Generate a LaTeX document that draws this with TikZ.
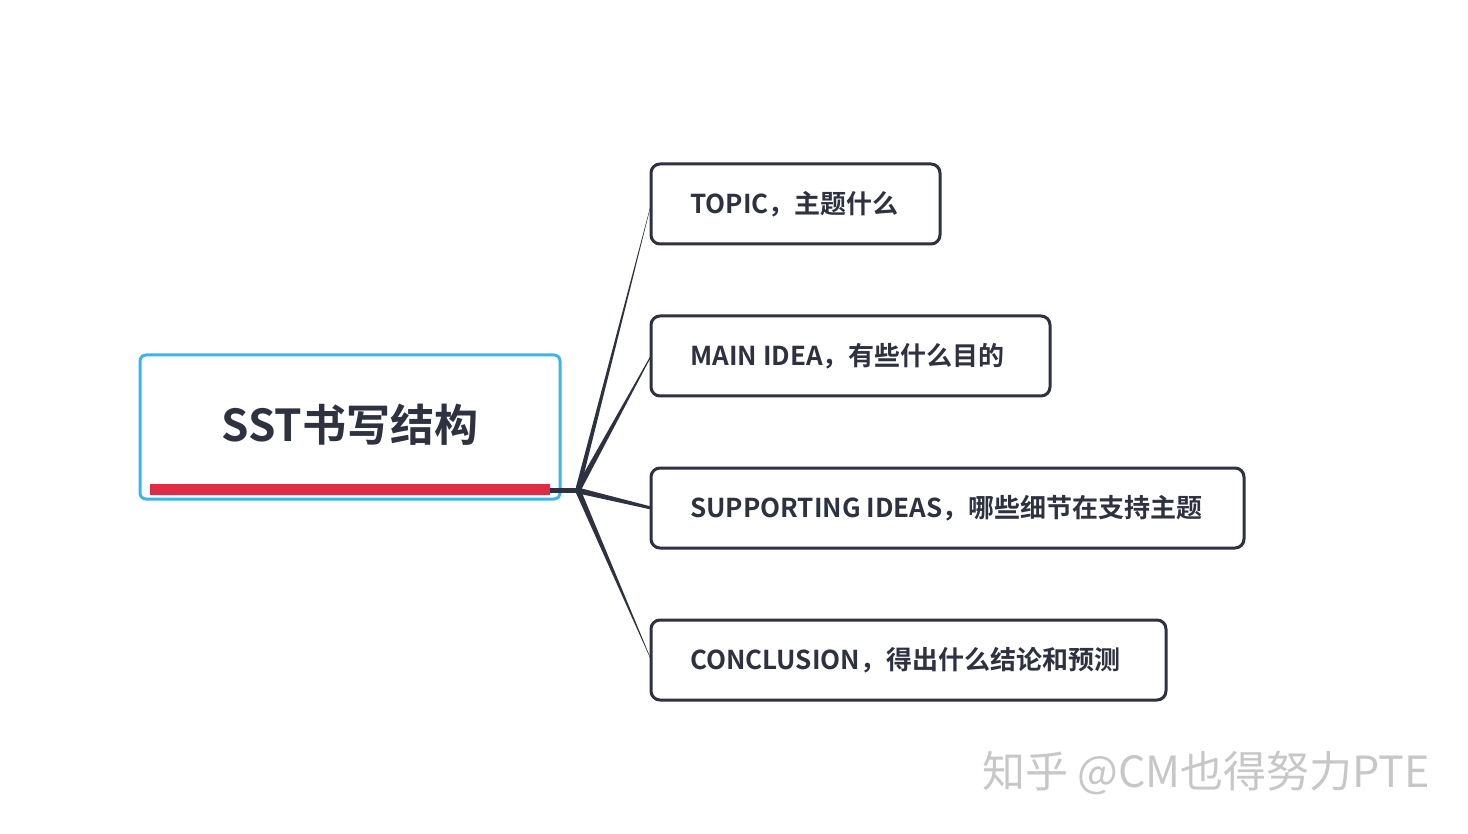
\documentclass[tikz,border=0pt]{standalone}
\usepackage{fontspec}
\setmainfont{Noto Sans CJK SC}
\newfontfamily\cjkb{Noto Sans CJK SC Bold}
\usetikzlibrary{calc}
\definecolor{ink}{HTML}{2E3140}
\definecolor{cyanb}{HTML}{3BB5EA}
\definecolor{redb}{HTML}{DC2D45}
\tikzset{
 child/.style={draw=ink,line width=3pt,rounded corners=9pt,anchor=north west,inner sep=0pt,text=ink},
 lbl/.style={anchor=west,inner sep=0pt,text=ink,font=\cjkb\fontsize{26}{30}\selectfont},
}
\begin{document}
\begin{tikzpicture}[x=1pt,y=-1pt]
\useasboundingbox[fill=white] (0,0) rectangle (1468,834);
\draw[cyanb,line width=3pt,rounded corners=6pt] (140,355) rectangle (560,499);
\fill[redb] (150,484) rectangle (550,495);
\node[text=ink,font=\cjkb\fontsize{44}{50}\selectfont] (root) at (350,425) {SST书写结构};
\coordinate (rs) at (550,490);
\coordinate (j) at (578,490);
\draw[child] (651,164) rectangle (940,244); \coordinate (c1) at (651,204);
\draw[child] (651,316) rectangle (1050,396); \coordinate (c2) at (651,356);
\draw[child] (651,468) rectangle (1244,548); \coordinate (c3) at (651,508);
\draw[child] (651,620) rectangle (1166,700); \coordinate (c4) at (651,660);
\node[lbl] (t1) at (690,204) {TOPIC，主题什么};
\node[lbl] (t2) at (690,356) {MAIN IDEA，有些什么目的};
\node[lbl] (t3) at (690,508) {SUPPORTING IDEAS，哪些细节在支持主题};
\node[lbl] (t4) at (690,660) {CONCLUSION，得出什么结论和预测};
\draw[ink,line width=5pt] (rs) -- (j);
\fill[ink] ($(j)+(-2,-3)$) -- ($(c1)+(0,0)$) -- ($(c1)+(0,1)$) -- ($(j)+(2,0)$) -- cycle;
\fill[ink] ($(j)+(-2,-3)$) -- ($(c2)+(0,-1)$) -- ($(c2)+(0,1)$) -- ($(j)+(2,2)$) -- cycle;
\fill[ink] ($(j)+(-2,-3)$) -- ($(c3)+(0,-1.5)$) -- ($(c3)+(0,1.5)$) -- ($(j)+(-2,3)$) -- cycle;
\fill[ink] ($(j)+(2,-2)$) -- ($(c4)+(0,-1)$) -- ($(c4)+(0,0)$) -- ($(j)+(-2,3)$) -- cycle;
\node[anchor=east,inner sep=0pt,text=black!22,font=\fontsize{43}{48}\selectfont] (wm) at (1430,773) {知乎 @CM也得努力PTE};
\end{tikzpicture}
\end{document}
